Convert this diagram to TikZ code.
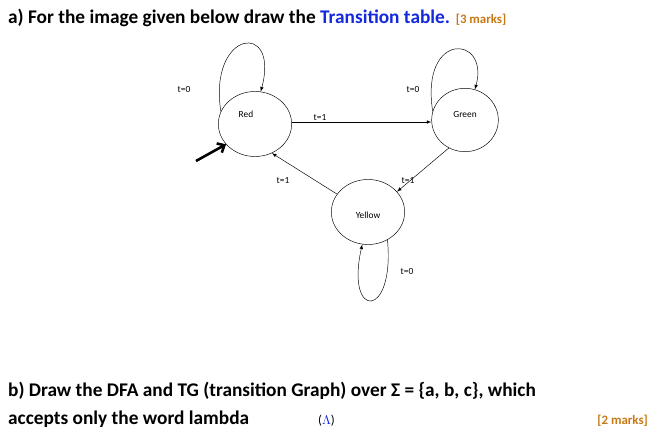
\documentclass[tikz,border=0pt]{standalone}
\usepackage{fontspec}
\setmainfont{Carlito}
\usepackage{xcolor}
\definecolor{qblue}{RGB}{20,40,220}
\definecolor{qorange}{RGB}{200,120,20}
\usetikzlibrary{shapes.geometric,arrows.meta}
\tikzset{
    state/.style = {
        ellipse,
        draw,
        minimum width   = 2.2cm,
        minimum height  = 1.95cm,
        font            = \fontsize{8}{9}\selectfont,
    },
    tlabel/.style = {
        font            = \fontsize{8}{9}\selectfont,
    }
}

\begin{document}
\begin{tikzpicture}[x=0.03cm,y=-0.03cm]
  \useasboundingbox (0,0) rectangle (656,433);

  % Question a
  \node[anchor=base west,font=\bfseries\fontsize{16.5}{18}\selectfont] (TitleA) at (4,24)
    {a) For the image given below draw the \textcolor{qblue}{Transition table.} \textcolor{qorange}{\fontsize{11}{12}\selectfont[3 marks]}};

  % States
  \node[state] (Red) at (255,124) {};
  \node[state,minimum width=2cm,minimum height=1.9cm] (Green) at (465,120) {};
  \node[state] (Yellow) at (368,212) {};
  \node[tlabel] (RedText) at (246,114) {Red};
  \node[tlabel] (GreenText) at (465,114) {Green};
  \node[tlabel] (YellowText) at (368,215) {Yellow};

  % Loops
  \draw[-latex] (Red.160) .. controls (208,30) and (280,20) .. (Red.80);
  \draw[-latex] (Green.165) .. controls (420,30) and (490,35) .. (Green.72);
  \draw[-latex] (Yellow.-55) .. controls (395,320) and (345,320) .. (Yellow.-100);
  \node[tlabel] (LoopRed) at (184,89) {t=0};
  \node[tlabel] (LoopGreen) at (413,89) {t=0};
  \node[tlabel] (LoopYellow) at (407,271) {t=0};

  % Transitions
  \draw[-latex] (Red.east |- 0,122) -- (Green.west |- 0,122);
  \draw[-latex] (Green.240) -- (Yellow.35);
  \draw[-latex] (Yellow.150) -- (Red.-60);
  \node[tlabel] (RG) at (320,118) {t=1};
  \node[tlabel] (GY) at (408,181) {t=1};
  \node[tlabel] (YR) at (283,181) {t=1};

  % Start arrow
  \coordinate (Start) at (196,161);
  \draw[line width=2.2pt,-{Straight Barb[length=5pt,width=9pt]}] (Start) -- (Red.-145);

  % Question b
  \node[anchor=base west,font=\bfseries\fontsize{16.5}{18}\selectfont] (TitleB) at (4,396)
    {b) Draw the DFA and TG (transition Graph) over Σ = \{a, b, c\}, which};
  \node[anchor=base west,font=\bfseries\fontsize{16.5}{18}\selectfont] (TitleC) at (4,424)
    {accepts only the word lambda};
  \node[anchor=base west,font=\fontsize{11}{12}\selectfont] (Lambda) at (314,424)
    {(\textcolor{qblue}{$\Lambda$})};
  \node[anchor=base east,font=\bfseries\fontsize{11}{12}\selectfont,text=qorange] (MarksB) at (652,424)
    {[2 marks]};
\end{tikzpicture}
\end{document}
